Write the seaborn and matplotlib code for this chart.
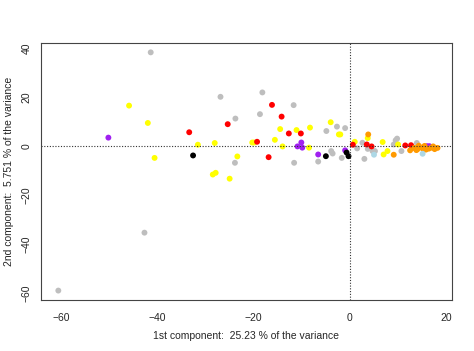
import numpy as np
import pandas as pd
import seaborn as sns
from matplotlib import pyplot as plt

# PCA scores, one list per group
gray_x = [-60.6, -41.4, -42.7, -26.9, -18.2, -11.7, -18.7, -23.8, -23.9, -11.6, -6.6, -3.9, -3.6, -1.7,
          -4.9, -2.7, -1.0, 1.5, 2.6, 3.7, 4.7, 5.2, 3.0, 9.8, 9.5, 9.1, 10.7, 13.9]
gray_y = [-59.0, 38.5, -35.3, 20.3, 22.1, 16.9, 13.2, 11.4, -6.7, -6.7, -6.2, -1.9, -2.9, -4.7,
          6.3, 8.1, 7.5, -0.8, 1.5, -1.0, -1.9, -1.9, -5.1, 3.2, 2.5, 0.8, -1.9, 1.4]
yellow_x = [-45.9, -42.0, -31.6, -40.6, -23.4, -28.5, -27.9, -25.0, -14.5, -11.1, -8.3, -4.0, -2.3, -2.0,
            -28.1, -20.3, -19.9, -15.6, -14.0, -8.5, 1.0, 3.7, 6.8, 7.8, 7.0, 10.0]
yellow_y = [16.7, 9.6, 0.7, -4.7, -4.1, -11.5, -10.8, -13.2, 7.1, 6.7, 7.7, 9.9, 4.9, 4.9,
            1.4, 1.6, 1.6, 2.7, 0.0, -0.5, 1.9, 3.4, 1.8, -1.9, -3.3, 0.8]
red_x = [-33.4, -16.2, -14.2, -25.4, -12.7, -10.2, -19.3, -16.9, 0.6, 3.5, 4.5, 11.5, 12.7, 13.0]
red_y = [5.8, 17.0, 12.2, 9.1, 5.3, 5.3, 1.9, -4.4, 0.7, 0.8, 0.0, 0.4, 0.5, -0.5]
purple_x = [-50.2, -10.1, -10.9, -9.9, -6.6, -1.0, 16.0, 16.5]
purple_y = [3.6, 1.6, 0.0, -0.5, -3.3, -1.6, 0.1, 0.1]
black_x = [-32.6, -5.0, -0.7, -0.3]
black_y = [-3.7, -4.0, -2.5, -4.0]
orange_x = [3.8, 9.1, 12.5, 13.4, 14.0, 14.6, 15.2, 15.8, 16.4, 17.0, 17.6, 18.2, 14.3, 15.5, 17.3, 13.8]
orange_y = [4.9, -3.4, -1.6, -0.6, -1.2, -0.4, -1.0, -1.3, -0.9, -0.5, -1.1, -0.6, 0.3, 0.2, 0.0, -1.5]
blue_x = [5.0, 15.1]
blue_y = [-3.4, -3.0]

groups = {"gray": (gray_x, gray_y), "yellow": (yellow_x, yellow_y), "red": (red_x, red_y),
          "purple": (purple_x, purple_y), "black": (black_x, black_y),
          "orange": (orange_x, orange_y), "blue": (blue_x, blue_y)}
colors = {"gray": "#bebebe", "yellow": "#ffff00", "red": "#ff0000", "purple": "#a020f0",
          "black": "#000000", "orange": "#ff9a00", "blue": "#add8e6"}

rows = []
for g, (xs, ys) in groups.items():
    for a, b in zip(xs, ys):
        rows.append({"pc1": a, "pc2": b, "grp": g})
df = pd.DataFrame(rows)

sns.set_style("white")
plt.rcParams["font.family"] = ["Liberation Sans", "DejaVu Sans"]

fig = plt.figure(figsize=(4.74, 3.51), dpi=100)
ax = fig.add_axes([0.0865, 0.145, 0.867, 0.733])
sns.scatterplot(data=df, x="pc1", y="pc2", hue="grp", palette=colors, s=18,
                linewidth=0, legend=False, ax=ax)
ax.axhline(0, color="#333333", linestyle=(0, (1, 1.5)), linewidth=0.8)
ax.axvline(0, color="#333333", linestyle=(0, (1, 1.5)), linewidth=0.8)

ax.set_xlim(-64.2, 21.2)
ax.set_ylim(-62.9, 42.4)
ax.set_xticks([-60, -40, -20, 0, 20])
ax.set_yticks([-60, -40, -20, 0, 20, 40])
ax.tick_params(axis="both", length=5, width=0.8, color="#444444", labelsize=7.5)
ax.tick_params(axis="x", pad=4)
ax.tick_params(axis="y", pad=2)
for lbl in ax.get_yticklabels():
    lbl.set_rotation(90)
    lbl.set_va("center")
for sp in ax.spines.values():
    sp.set_color("#444444")
    sp.set_linewidth(0.8)

ax.set_xlabel("1st component:  25.23 % of the variance", fontsize=7.5, labelpad=6)
ax.set_ylabel("2nd component:  5.751 % of the variance", fontsize=7.5, labelpad=5)

fig.savefig("out.png", dpi=100)
